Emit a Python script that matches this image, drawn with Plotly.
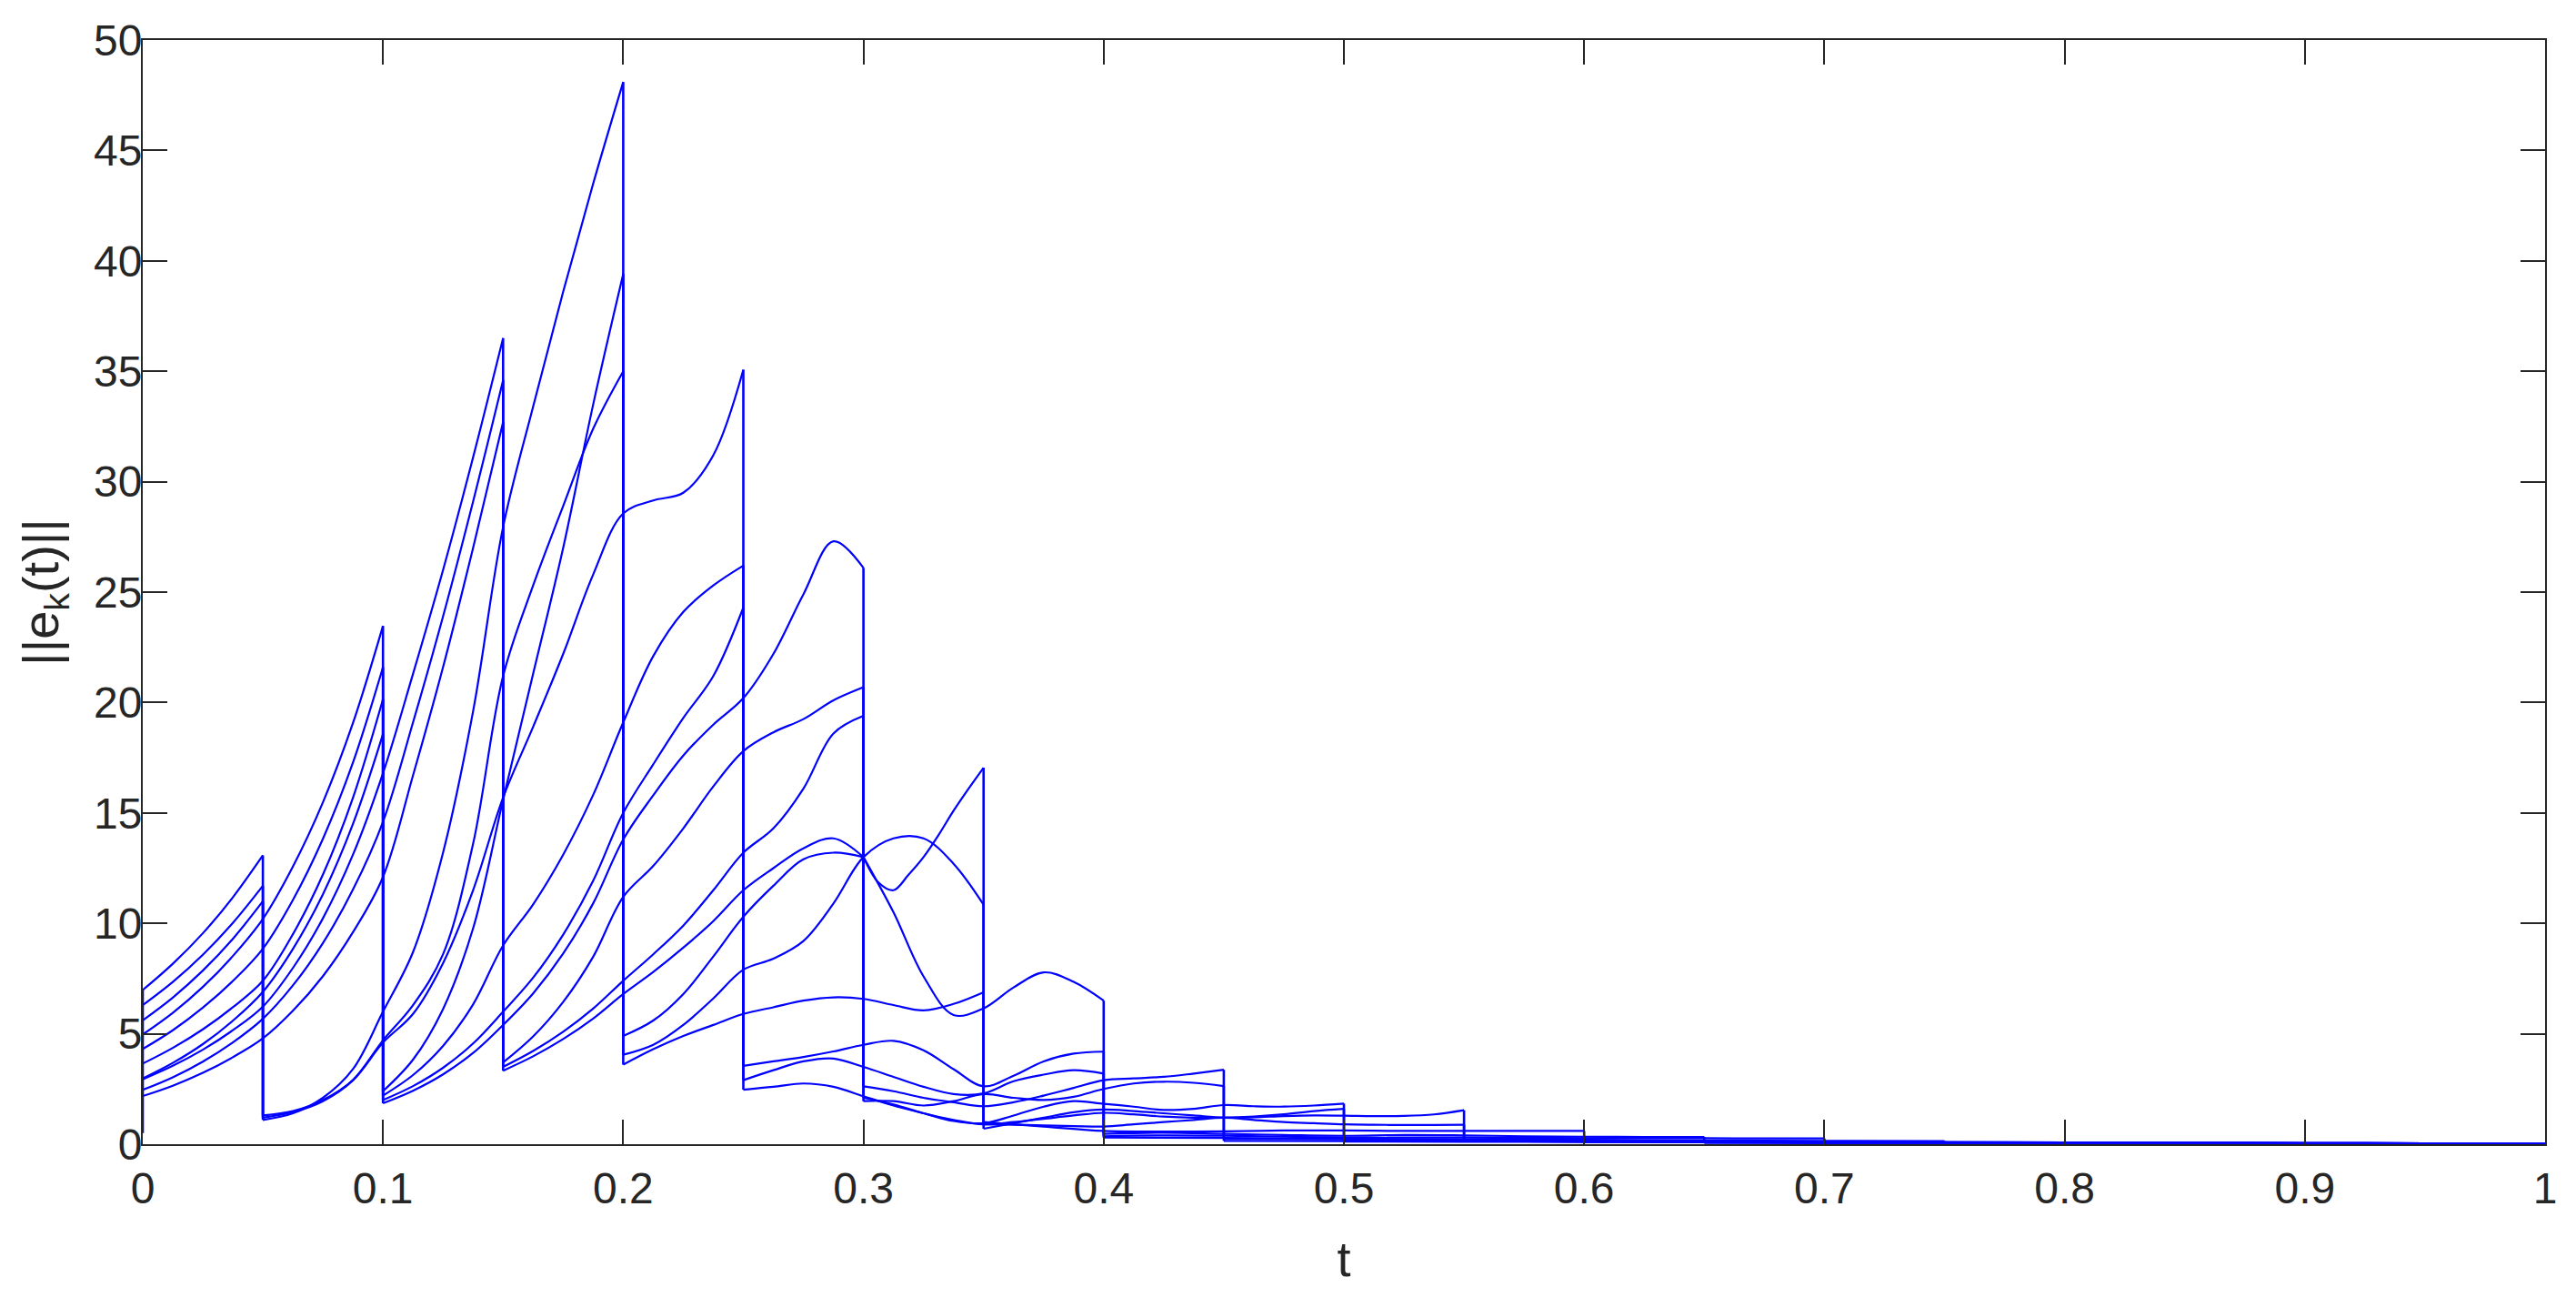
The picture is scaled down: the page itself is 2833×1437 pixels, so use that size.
import plotly.graph_objects as go

# ---- data: each curve is a list of pieces (t_start, t_step, values); consecutive pieces are joined by a jump ----
curve_A = [
    (0.00, 0.0125, [0.5]),
    (0.00, 0.0125, [6.98, 8.17, 9.55, 11.18, 13.08]),
    (0.05, 0.0125, [1.1, 1.4, 2.1, 3.4, 6.0, 8.7, 13.2, 19.6, 27.95, 33.4, 38.6, 43.5, 48.1]),
    (0.20, 0.0125, [4.9, 5.6, 6.8, 8.5, 10.3, 11.7, 12.9, 13.2, 13.0]),
    (0.30, 0.0125, [13.0, 10.5, 7.6, 5.85, 6.15, 7.1, 7.78, 7.35, 6.5]),
    (0.40, 0.025, [0.47, 0.52, 0.47, 0.42, 0.38, 0.42, 0.4, 0.36, 0.34, 0.33, 0.33]),
    (0.65, 0.05, [0.06, 0.05, 0.05, 0.04, 0.03, 0.03, 0.02, 0.02]),
]
curve_B = [
    (0.00, 0.0125, [6.30, 7.35, 8.58, 10.02, 11.7]),
    (0.05, 0.0125, [1.2, 1.45, 1.95, 2.9, 4.7, 6.3, 8.6, 13.6, 21.2, 25.3, 28.9, 32.4, 35.0]),
    (0.20, 0.0125, [4.05, 4.5, 5.4, 6.6, 7.9, 8.4, 9.2, 10.9, 13.0, 13.85, 13.85, 12.7, 10.85]),
    (0.35, 0.0125, [0.9, 0.88, 0.85, 0.82, 0.8, 0.9, 1.0, 1.1, 1.2, 1.1, 1.0, 0.95, 0.9, 0.88, 0.87, 0.87, 0.88]),
    (0.55, 0.05, [0.14, 0.12, 0.1, 0.09, 0.08, 0.07, 0.06, 0.05, 0.04, 0.03]),
]
curve_C = [
    (0.00, 0.0125, [5.61, 6.64, 7.86, 9.30, 11.0]),
    (0.05, 0.0125, [1.3, 1.5, 2.0, 2.9, 4.6, 5.9, 8.2, 11.5, 15.7, 18.9, 22.2, 25.8, 28.56, 29.15, 29.5, 31.2, 35.07]),
    (0.25, 0.0125, [3.55, 3.75, 3.95, 4.2, 4.5, 4.68, 4.25, 3.4, 2.62, 3.1, 3.75, 4.1, 4.19]),
    (0.40, 0.025, [0.36, 0.4, 0.38, 0.34, 0.3, 0.3, 0.3, 0.29, 0.27, 0.27, 0.27, 0.26, 0.26]),
    (0.70, 0.05, [0.03, 0.03, 0.025, 0.02, 0.02, 0.015, 0.01]),
]
curve_D = [
    (0.00, 0.0125, [4.97, 5.95, 7.12, 8.52, 10.2, 12.57, 15.48, 19.07, 23.47]),
    (0.10, 0.0125, [2.4, 3.83, 6.12, 9.77, 15.6, 21.3, 27.0, 33.5, 39.4]),
    (0.20, 0.0125, [3.6, 4.3, 4.9, 5.4, 5.9, 6.2, 6.5, 6.65, 6.58, 6.3, 6.06, 6.35, 6.88]),
    (0.35, 0.025, [1.0, 0.8, 0.6, 0.57, 0.58, 0.62, 0.62, 0.6, 0.6, 0.6, 0.6]),
    (0.60, 0.05, [0.1, 0.09, 0.08, 0.07, 0.06, 0.05, 0.04, 0.03, 0.02]),
]
curve_E = [
    (0.00, 0.0125, [4.31, 5.16, 6.18, 7.39, 8.85, 11.06, 13.83, 17.28, 21.6]),
    (0.10, 0.0125, [2.2, 3.13, 4.45, 6.33, 9.0, 10.86, 13.11, 15.82, 19.1, 22.1, 24.1, 25.3, 26.2]),
    (0.25, 0.0125, [2.9, 3.35, 3.75, 3.88, 3.5, 3.05, 2.6, 2.27, 2.3, 2.85, 3.15, 3.35, 3.2]),
    (0.40, 0.05, [0.3, 0.28, 0.25, 0.22, 0.2, 0.17, 0.15, 0.14]),
    (0.75, 0.05, [0.04, 0.035, 0.03, 0.025, 0.02, 0.02]),
]
curve_F = [
    (0.00, 0.0125, [3.65, 4.36, 5.2, 6.2, 7.4, 9.51, 12.21, 15.69, 20.15]),
    (0.10, 0.0125, [2.0, 2.63, 3.46, 4.56, 6.0, 7.54, 9.49, 11.93, 15.0, 17.2, 19.3, 21.2, 24.3]),
    (0.25, 0.0125, [2.47, 2.6, 2.75, 2.6, 2.17, 1.75, 1.4, 1.05, 0.95, 1.3, 1.7, 1.95, 1.83,
                    1.7, 1.55, 1.6, 1.77, 1.72, 1.7, 1.75, 1.84]),
    (0.50, 0.05, [0.2, 0.18, 0.15, 0.12, 0.1, 0.08, 0.07, 0.06, 0.05, 0.04, 0.03]),
]
curve_G = [
    (0.00, 0.0125, [2.98, 3.68, 4.53, 5.59, 6.9, 8.84, 11.32, 14.5, 18.57]),
    (0.10, 0.0125, [1.85, 2.42, 3.16, 4.13, 5.4, 6.83, 8.63, 10.91, 13.8, 15.8, 17.6, 19.0, 20.2,
                    22.2, 24.9, 27.3, 26.1]),
    (0.30, 0.0125, [2.62, 2.4, 2.1, 1.9, 1.72, 1.9, 2.2, 2.55, 2.9, 2.98, 3.05, 3.2, 3.37]),
    (0.45, 0.05, [0.25, 0.22, 0.2, 0.17, 0.15, 0.12, 0.1, 0.08, 0.06, 0.05, 0.04, 0.03]),
]
curve_H = [
    (0.00, 0.0125, [2.94, 3.55, 4.28, 5.16, 6.23, 7.98, 10.23, 13.11, 16.8, 21.3, 26.0, 31.1, 36.5]),
    (0.15, 0.0125, [3.7, 4.88, 6.44, 8.49, 11.2, 12.6, 14.3, 16.2, 17.8, 18.65, 19.25, 20.1, 20.7]),
    (0.30, 0.0125, [2.1, 1.8, 1.4, 1.1, 0.9, 1.0, 1.15, 1.3, 1.42, 1.35, 1.25, 1.2, 1.2,
                    1.25, 1.35, 1.5, 1.6]),
    (0.50, 0.05, [0.12, 0.11, 0.1, 0.09, 0.08, 0.07, 0.06, 0.05, 0.04, 0.03, 0.03]),
]
curve_I = [
    (0.00, 0.0125, [2.46, 3.03, 3.74, 4.61, 5.68, 7.19, 9.11, 11.53, 14.6, 19.1, 23.9, 29.1, 34.6]),
    (0.15, 0.0125, [3.5, 4.22, 5.09, 6.14, 7.4, 8.6, 9.9, 11.5, 13.2, 14.3, 16.1, 18.6, 19.4]),
    (0.30, 0.0125, [1.95, 1.95, 1.75, 1.95, 2.27, 2.1, 2.0, 2.15, 2.5, 2.75, 2.83, 2.78, 2.63]),
    (0.45, 0.05, [0.15, 0.14, 0.13, 0.12, 0.1, 0.09, 0.08, 0.07, 0.06, 0.05, 0.04, 0.03]),
]
curve_J = [
    (0.00, 0.0125, [2.18, 2.65, 3.23, 3.94, 4.79, 6.04, 7.61, 9.6, 12.1, 16.7, 21.6, 27.0, 32.7]),
    (0.15, 0.0125, [3.33, 3.98, 4.76, 5.69, 6.8, 7.8, 8.9, 10.1, 11.5, 12.5, 13.4, 13.85, 13.0]),
    (0.30, 0.00625, [13.0, 11.85, 11.5, 12.2, 13.0, 14.0, 15.1, 16.1, 17.05]),
    (0.35, 0.0125, [0.7, 0.95, 1.2, 1.45, 1.57, 1.5, 1.4, 1.3, 1.2, 1.22, 1.27, 1.3, 1.29,
                    1.27, 1.28, 1.35, 1.54]),
    (0.55, 0.05, [0.15, 0.14, 0.12, 0.1, 0.09, 0.08, 0.06, 0.05, 0.04, 0.03]),
]
curves = [curve_A, curve_B, curve_C, curve_D, curve_E, curve_F, curve_G, curve_H, curve_I, curve_J]

x_ticks = [0, 0.1, 0.2, 0.3, 0.4, 0.5, 0.6, 0.7, 0.8, 0.9, 1]
x_ticklabels = ["0", "0.1", "0.2", "0.3", "0.4", "0.5", "0.6", "0.7", "0.8", "0.9", "1"]
y_ticks = [0, 5, 10, 15, 20, 25, 30, 35, 40, 45, 50]

# ---- build traces ----
BLUE = "#0000ff"
AX = "#262626"
smooth_x, smooth_y, jump_x, jump_y = [], [], [], []
for pieces in curves:
    prev_end = None
    for t0, step, vals in pieces:
        xs = [round(t0 + i * step, 6) for i in range(len(vals))]
        if prev_end is not None and prev_end != vals[0]:
            jump_x += [t0, t0, None]
            jump_y += [prev_end, vals[0], None]
        smooth_x += xs + [None]
        smooth_y += list(vals) + [None]
        prev_end = vals[-1]

fig = go.Figure()
fig.add_trace(go.Scatter(x=smooth_x, y=smooth_y, mode="lines", connectgaps=False,
                         line=dict(color=BLUE, width=2.2, shape="spline", smoothing=1.0),
                         hoverinfo="skip", showlegend=False))
fig.add_trace(go.Scatter(x=jump_x, y=jump_y, mode="lines", connectgaps=False,
                         line=dict(color=BLUE, width=2.6),
                         hoverinfo="skip", showlegend=False))

font_family = "Liberation Sans, Arial, Helvetica, sans-serif"
axis_common = dict(showgrid=False, zeroline=False, showline=True, linecolor=AX, linewidth=2,
                   mirror="ticks", ticks="inside", ticklen=27, tickwidth=2, tickcolor=AX,
                   tickfont=dict(family=font_family, size=48, color=AX))
fig.update_layout(
    width=2833, height=1437,
    margin=dict(l=157, r=34, t=44, b=179, autoexpand=False),
    paper_bgcolor="white", plot_bgcolor="white",
    font=dict(family=font_family, color=AX),
    xaxis=dict(range=[0, 1], tickvals=x_ticks, ticktext=x_ticklabels, ticklabelstandoff=5,
               title=dict(text="t", font=dict(family=font_family, size=54, color=AX), standoff=34),
               **axis_common),
    yaxis=dict(range=[0, 50], tickvals=y_ticks, ticklabelstandoff=-11,
               title=dict(text="||e<sub>k</sub>(t)||", font=dict(family=font_family, size=56, color=AX),
                          standoff=20),
               **axis_common),
)
fig.write_html("out.html", config={"displayModeBar": False},
               post_script="document.body.style.margin='0px';")
